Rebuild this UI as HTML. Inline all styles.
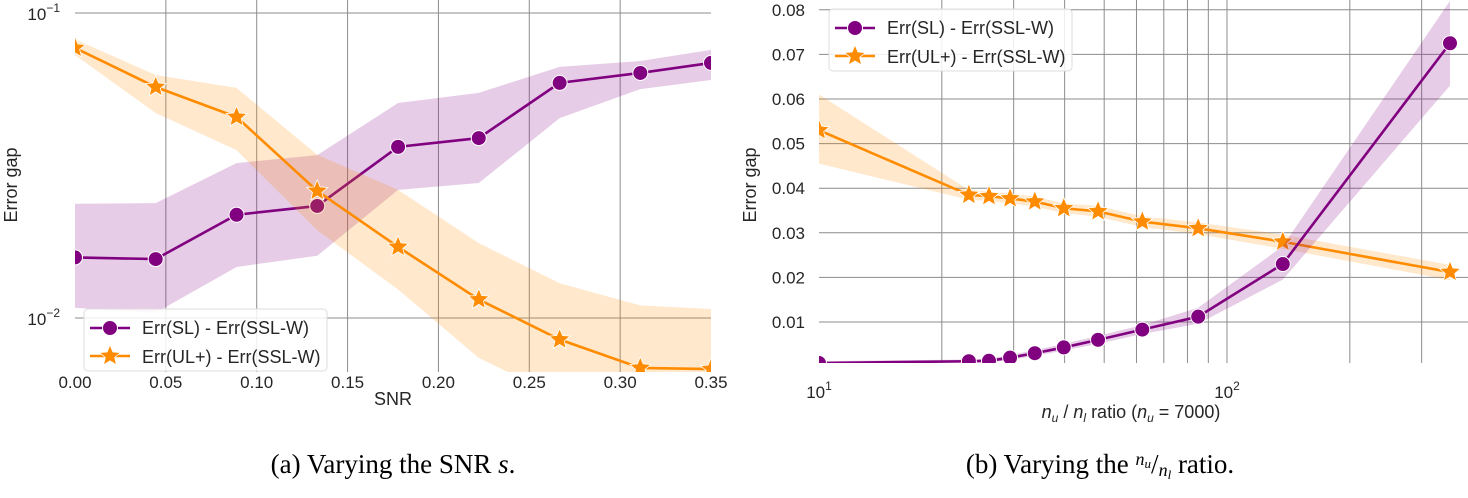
<!DOCTYPE html>
<html><head><meta charset="utf-8"><style>
body{margin:0;background:#fff;width:1468px;height:493px;overflow:hidden}
svg text{font-family:"Liberation Sans",sans-serif;fill:#262626}
.cap{font-family:"Liberation Serif",serif;font-size:27px;fill:#000}
</style></head><body>
<svg id="s" width="1468" height="493" xmlns="http://www.w3.org/2000/svg">
<defs>
<clipPath id="cl"><rect x="75" y="0" width="636" height="372"/></clipPath>
<clipPath id="cr"><rect x="819" y="0" width="649" height="363"/></clipPath>
</defs>
<g id="left"></g>
<g id="right"></g>
<text class="cap" x="393" y="473" text-anchor="middle">(a) Varying the SNR <tspan font-style="italic">s</tspan>.</text>
<text class="cap" x="1100" y="473" text-anchor="middle">(b) Varying the <tspan font-style="italic" font-size="18" dy="-8">n<tspan font-size="13" dy="3">u</tspan></tspan><tspan dy="5">/</tspan><tspan font-style="italic" font-size="18" dy="3">n<tspan font-size="13" dy="3">l</tspan></tspan><tspan dy="-6"> ratio.</tspan></text>
</svg>
<script>
// Left chart data
const snrX=[0,0.0444,0.0889,0.1333,0.1778,0.2222,0.2667,0.3111,0.35];
const slL=[0.0158,0.0156,0.0218,0.0233,0.0364,0.0389,0.059,0.0636,0.0686];
const slLup=[0.0237,0.0238,0.0322,0.0342,0.0507,0.0547,0.0666,0.0696,0.0757];
const slLlo=[0.0108,0.0104,0.0147,0.016,0.0263,0.0277,0.0452,0.0563,0.0603];
const ulL=[0.0768,0.0572,0.0456,0.0261,0.0171,0.0115,0.0085,0.00686,0.0068];
const ulLup=[0.082,0.0626,0.0568,0.0343,0.0263,0.0176,0.013,0.011,0.0107];
const ulLlo=[0.0728,0.047,0.0355,0.0194,0.0124,0.0074,0.0055,0.0046,0.0045];
const snrTicks=["0.00","0.05","0.10","0.15","0.20","0.25","0.30","0.35"];
// Right chart data
const ratioX=[10,23.3,26.1,29.4,33.8,39.8,48.3,62,85,137,352];
const slR=[0.0008,0.0012,0.0013,0.002,0.003,0.0043,0.006,0.0083,0.0112,0.023,0.0725];
const slRup=[0.0012,0.0016,0.0018,0.0026,0.0037,0.0051,0.0069,0.0093,0.0132,0.027,0.082];
const slRlo=[0.0005,0.0009,0.0009,0.0015,0.0024,0.0036,0.0051,0.0073,0.0096,0.0195,0.063];
const ulR=[0.053,0.0385,0.0382,0.0377,0.037,0.0355,0.0348,0.0325,0.031,0.028,0.0212];
const ulRup=[0.061,0.0396,0.0393,0.0388,0.0381,0.0366,0.036,0.0337,0.0323,0.0296,0.0228];
const ulRlo=[0.0455,0.0374,0.0371,0.0366,0.0359,0.0344,0.0336,0.0313,0.0297,0.0264,0.0194];
const ratioYTicks=[0.01,0.02,0.03,0.04,0.05,0.06,0.07,0.08];

const NS="http://www.w3.org/2000/svg";
function mk(p,tag,a){const e=document.createElementNS(NS,tag);for(const k in a)e.setAttribute(k,a[k]);p.appendChild(e);return e;}
const PUR="#800080",ORG="#ff8c00";
function star(cx,cy,r){let p=[];for(let i=0;i<10;i++){const a=-Math.PI/2+i*Math.PI/5;const rr=i%2?r*0.45:r;p.push((cx+rr*Math.cos(a)).toFixed(1)+","+(cy+rr*Math.sin(a)).toFixed(1));}return p.join(" ");}
function series(g,xs,ys,up,lo,sx,sy,col,kind,clip,nm){
  const gg=mk(g,"g",{"clip-path":"url(#"+clip+")"});
  const band=mk(gg,"polygon",{points:xs.map((x,i)=>sx(x)+","+sy(up[i])).concat(xs.map((x,i)=>sx(x)+","+sy(lo[i])).reverse()).join(" "),fill:col,"fill-opacity":0.2});
  
  
  const line=mk(gg,"polyline",{points:xs.map((x,i)=>sx(x)+","+sy(ys[i])).join(" "),fill:"none",stroke:col,"stroke-width":2.6});
  
  
  xs.forEach((x,i)=>{let m;
    if(kind==="c")m=mk(gg,"circle",{cx:sx(x),cy:sy(ys[i]),r:7.5,fill:col,stroke:"#fff","stroke-width":1});
    else m=mk(gg,"polygon",{points:star(sx(x),sy(ys[i]),11),fill:col,stroke:"#fff","stroke-width":0.8});
    
    
  });
}
function legend(g,x,y){
  const r=mk(g,"rect",{x:x,y:y,width:243,height:62,rx:4,fill:"#fff","fill-opacity":0.85,stroke:"#ddd"});
  
  
  mk(g,"line",{x1:x+6,x2:x+46,y1:y+19,y2:y+19,stroke:PUR,"stroke-width":2.6});
  mk(g,"circle",{cx:x+26,cy:y+19,r:7.5,fill:PUR,stroke:"#fff"});
  const t1=mk(g,"text",{x:x+58,y:y+25,"font-size":18,"xml:space":"preserve"});t1.textContent="Err(SL)  -  Err(SSL-W)";
  
  
  mk(g,"line",{x1:x+6,x2:x+46,y1:y+47,y2:y+47,stroke:ORG,"stroke-width":2.6});
  mk(g,"polygon",{points:star(x+26,y+47,11),fill:ORG,stroke:"#fff","stroke-width":0.8});
  const t2=mk(g,"text",{x:x+58,y:y+54,"font-size":18});t2.textContent="Err(UL+) - Err(SSL-W)";
  
  
}
// LEFT
(function(){
  const g=document.getElementById("left");
  const x0=75,x1=711,yT=13,yB=372;
  const sx=v=>x0+(v-0)/0.35*(x1-x0);
  const sy=v=>yT+(-1-Math.log10(v))*305;
  snrTicks.forEach(t=>{const v=parseFloat(t);
    if(v>0&&v<0.35)mk(g,"line",{x1:sx(v),x2:sx(v),y1:0,y2:yB,stroke:"#8c8c8c","stroke-width":1});
    const tx=mk(g,"text",{x:sx(v),y:388,"font-size":17,"text-anchor":"middle"});tx.textContent=t;
    
    
  });
  [0.1,0.01].forEach((v,i)=>{mk(g,"line",{x1:x0,x2:x1,y1:sy(v),y2:sy(v),stroke:"#8c8c8c"});
    const tx=mk(g,"text",{x:60,y:sy(v)+7,"font-size":17,"text-anchor":"end"});
    tx.innerHTML="10<tspan font-size='12' dy='-8'>"+(i?"−2":"−1")+"</tspan>";
    
    
  });
  series(g,snrX,slL,slLup,slLlo,sx,sy,PUR,"c","cl","sl");
  series(g,snrX,ulL,ulLup,ulLlo,sx,sy,ORG,"s","cl","ul");
  const xl=mk(g,"text",{x:393,y:405,"font-size":18,"text-anchor":"middle"});xl.textContent="SNR";
  
  
  const yl=mk(g,"text",{x:17,y:185,"font-size":18,"text-anchor":"middle",transform:"rotate(-90 17 185)"});yl.textContent="Error gap";
  
  
  legend(g,84,309);
})();
// RIGHT
(function(){
  const g=document.getElementById("right");
  const x0=819,dec=408,yB=363;
  const sx=v=>x0+(Math.log10(v)-1)*dec;
  const sy=v=>322-(v-0.01)*4460;
  [20,30,40,50,60,70,80,90,100,200,300].forEach(v=>mk(g,"line",{x1:sx(v),x2:sx(v),y1:0,y2:yB,stroke:"#8c8c8c"}));
  ratioYTicks.forEach(v=>{mk(g,"line",{x1:x0,x2:1468,y1:sy(v),y2:sy(v),stroke:"#8c8c8c"});
    const tx=mk(g,"text",{x:805,y:sy(v)+6,"font-size":17,"text-anchor":"end"});tx.textContent=v.toFixed(2);
    
    
  });
  [[10,"1"],[100,"2"]].forEach(([v,e])=>{const tx=mk(g,"text",{x:sx(v),y:398,"font-size":17,"text-anchor":"middle"});
    tx.innerHTML="10<tspan font-size='12' dy='-8'>"+e+"</tspan>";
    
    
  });
  series(g,ratioX,ulR,ulRup,ulRlo,sx,sy,ORG,"s","cr","ul");
  series(g,ratioX,slR,slRup,slRlo,sx,sy,PUR,"c","cr","sl");
  const xl=mk(g,"text",{x:1131,y:418,"font-size":18,"text-anchor":"middle"});
  xl.innerHTML="<tspan font-style='italic'>n<tspan font-size='12' dy='4'>u</tspan></tspan><tspan dy='-4'> / </tspan><tspan font-style='italic'>n<tspan font-size='12' dy='4'>l</tspan></tspan><tspan dy='-4'> ratio (</tspan><tspan font-style='italic'>n<tspan font-size='12' dy='4'>u</tspan></tspan><tspan dy='-4'> = 7000)</tspan>";
  
  
  const yl=mk(g,"text",{x:756,y:185,"font-size":18,"text-anchor":"middle",transform:"rotate(-90 756 185)"});yl.textContent="Error gap";
  
  
  legend(g,829,9);
})();
</script>
</body></html>
